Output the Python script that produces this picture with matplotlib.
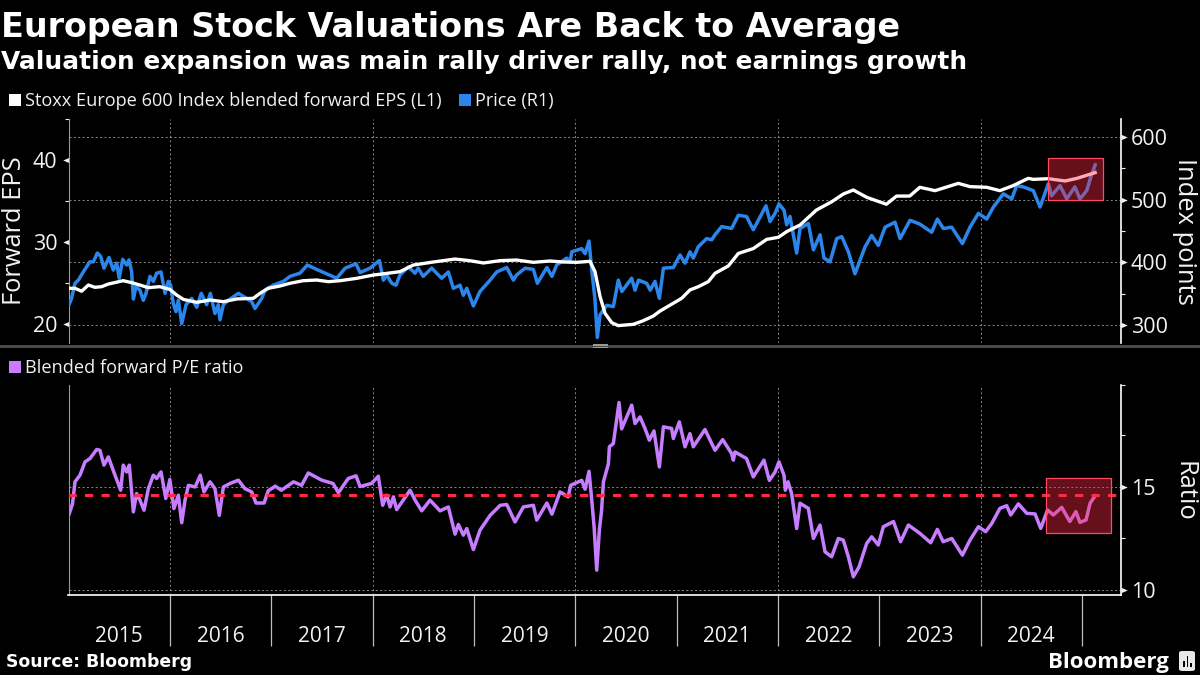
import matplotlib
matplotlib.use('Agg')
import matplotlib.pyplot as plt
from matplotlib.patches import Rectangle, FancyBboxPatch

# price (right axis)
price_dates = [2015.005,2015.03,2015.064,2015.097,2015.146,2015.21,2015.245,2015.284,2015.317,2015.35,2015.40,2015.442,2015.475,2015.50,2015.535,2015.574,2015.597,2015.623,2015.64,2015.666,2015.705,2015.738,2015.765,2015.804,2015.837,2015.87,2015.913,2015.952,2015.985,2016.008,2016.034,2016.06,2016.084,2016.117,2016.16,2016.215,2016.265,2016.31,2016.363,2016.40,2016.445,2016.478,2016.495,2016.528,2016.577,2016.676,2016.758,2016.807,2016.84,2016.906,2016.939,2017.02,2017.12,2017.186,2017.284,2017.357,2017.449,2017.548,2017.646,2017.73,2017.837,2017.877,2017.975,2018.067,2018.107,2018.14,2018.189,2018.232,2018.27,2018.354,2018.42,2018.45,2018.50,2018.584,2018.682,2018.748,2018.797,2018.863,2018.896,2018.93,2018.995,2019.06,2019.16,2019.225,2019.324,2019.39,2019.42,2019.505,2019.587,2019.626,2019.72,2019.77,2019.817,2019.916,2019.95,2019.965,2020.064,2020.097,2020.136,2020.163,2020.195,2020.218,2020.245,2020.31,2020.376,2020.425,2020.46,2020.557,2020.59,2020.624,2020.705,2020.74,2020.787,2020.83,2020.87,2020.968,2021.034,2021.083,2021.132,2021.165,2021.214,2021.297,2021.346,2021.379,2021.445,2021.543,2021.609,2021.69,2021.757,2021.882,2021.922,2021.971,2022.01,2022.06,2022.086,2022.119,2022.185,2022.218,2022.30,2022.35,2022.415,2022.455,2022.514,2022.58,2022.63,2022.695,2022.76,2022.86,2022.925,2022.99,2023.057,2023.155,2023.205,2023.303,2023.40,2023.517,2023.573,2023.632,2023.715,2023.82,2023.895,2023.978,2024.06,2024.126,2024.224,2024.307,2024.356,2024.42,2024.52,2024.586,2024.668,2024.70,2024.783,2024.85,2024.93,2024.98,2025.046,2025.086,2025.13]
price_vals = [333,343,367,372,385,401,401,415,410,391,408,388,399,375,405,396,404,385,342,362,356,340,351,378,370,383,385,351,370,364,335,322,340,303,333,343,329,351,333,351,319,333,309,333,340,351,343,338,327,343,356,364,370,378,383,396,389,382,375,391,398,384,391,403,372,380,367,364,380,393,383,391,378,391,375,385,359,364,348,359,331,354,372,385,392,372,380,391,389,367,392,378,396,407,401,417,422,414,434,388,341,281,317,332,330,372,354,375,356,372,367,356,370,343,391,392,412,399,417,407,425,438,436,444,457,454,475,473,452,490,465,478,493,483,460,473,415,454,462,420,444,407,401,438,441,417,382,425,443,427,456,464,438,467,461,448,469,454,456,430,456,478,469,488,509,501,522,520,514,488,525,506,522,501,520,501,514,535,555]

# forward eps (left axis)
eps_dates = [2015.005,2015.064,2015.13,2015.196,2015.26,2015.327,2015.393,2015.54,2015.623,2015.705,2015.787,2015.90,2016.0,2016.067,2016.133,2016.265,2016.396,2016.528,2016.66,2016.824,2016.89,2016.97,2017.087,2017.185,2017.317,2017.449,2017.564,2017.68,2017.844,2018.008,2018.14,2018.27,2018.403,2018.60,2018.814,2018.96,2019.094,2019.258,2019.42,2019.587,2019.75,2019.883,2020.014,2020.146,2020.195,2020.245,2020.294,2020.36,2020.425,2020.574,2020.672,2020.77,2020.837,2021.05,2021.132,2021.215,2021.313,2021.379,2021.51,2021.609,2021.757,2021.889,2022.004,2022.086,2022.218,2022.38,2022.53,2022.645,2022.744,2022.876,2023.07,2023.17,2023.30,2023.40,2023.55,2023.78,2023.895,2024.06,2024.19,2024.32,2024.47,2024.52,2024.668,2024.833,2024.95,2025.13]
eps_vals = [24.35,24.35,24.0,24.75,24.47,24.55,24.87,25.28,25.04,24.75,24.43,24.55,24.22,23.53,23.0,22.64,22.92,22.72,23.05,23.13,23.74,24.35,24.63,24.96,25.28,25.36,25.16,25.28,25.57,25.97,26.17,26.38,27.19,27.56,27.92,27.72,27.44,27.72,27.8,27.52,27.68,27.56,27.52,27.64,26.38,23.33,21.3,20.16,19.8,19.96,20.4,20.97,21.58,23.13,24.15,24.55,25.16,26.18,27.07,28.6,29.2,30.32,30.57,31.26,32.07,33.9,34.9,35.85,36.34,35.45,34.6,35.6,35.6,36.67,36.26,37.15,36.75,36.67,36.26,36.87,37.76,37.64,37.72,37.44,37.76,38.46]

# blended forward P/E (bottom panel)
pe_dates = [2015.008,2015.04,2015.064,2015.113,2015.163,2015.212,2015.278,2015.31,2015.35,2015.393,2015.459,2015.515,2015.54,2015.574,2015.60,2015.64,2015.672,2015.705,2015.745,2015.788,2015.837,2015.87,2015.913,2015.96,2016.0,2016.04,2016.084,2016.117,2016.15,2016.183,2016.25,2016.30,2016.337,2016.396,2016.445,2016.488,2016.528,2016.594,2016.676,2016.74,2016.807,2016.85,2016.93,2016.97,2017.04,2017.10,2017.22,2017.30,2017.366,2017.498,2017.61,2017.663,2017.76,2017.837,2017.877,2017.99,2018.057,2018.10,2018.14,2018.173,2018.206,2018.238,2018.37,2018.42,2018.485,2018.567,2018.666,2018.748,2018.814,2018.847,2018.896,2018.93,2018.995,2019.06,2019.16,2019.26,2019.324,2019.406,2019.488,2019.587,2019.62,2019.72,2019.77,2019.85,2019.93,2019.955,2020.064,2020.097,2020.136,2020.163,2020.186,2020.212,2020.238,2020.26,2020.278,2020.327,2020.337,2020.376,2020.432,2020.458,2020.557,2020.59,2020.639,2020.688,2020.731,2020.777,2020.83,2020.87,2020.951,2020.968,2021.027,2021.083,2021.132,2021.165,2021.28,2021.379,2021.455,2021.543,2021.56,2021.576,2021.69,2021.757,2021.862,2021.915,2021.971,2022.01,2022.06,2022.073,2022.10,2022.135,2022.185,2022.218,2022.30,2022.35,2022.415,2022.465,2022.53,2022.596,2022.645,2022.695,2022.744,2022.80,2022.876,2022.925,2022.99,2023.04,2023.14,2023.21,2023.287,2023.40,2023.507,2023.573,2023.63,2023.715,2023.82,2023.895,2023.978,2024.05,2024.11,2024.19,2024.257,2024.297,2024.372,2024.455,2024.537,2024.593,2024.66,2024.718,2024.80,2024.88,2024.94,2024.98,2025.04,2025.08,2025.13]
pe_vals = [13.69,14.17,15.23,15.55,16.2,16.36,16.8,16.76,16.04,16.44,15.55,14.82,16.04,15.71,16.04,13.77,14.66,14.34,13.85,14.9,15.55,15.39,15.71,14.42,15.34,13.93,14.58,13.24,14.34,15.06,14.98,15.55,14.74,15.23,14.9,13.6,14.98,15.15,15.31,14.9,14.74,14.2,14.2,14.79,15.02,14.82,15.23,15.06,15.66,15.31,15.15,14.7,15.39,15.52,15.0,15.15,15.5,14.09,14.58,14.01,14.5,13.88,14.82,14.34,13.82,14.34,13.82,14.01,12.69,13.16,12.64,12.96,11.94,12.88,13.6,14.09,14.13,13.28,14.01,14.09,13.37,14.2,13.66,14.74,14.5,15.06,15.3,14.87,15.74,14.34,13.04,10.94,12.88,13.85,15.23,16.1,16.93,17.09,19.08,17.8,18.95,18.06,18.38,17.82,17.25,17.7,15.95,17.9,17.82,17.33,18.14,16.93,17.57,16.93,17.77,16.76,17.28,16.6,16.28,16.68,16.36,15.47,16.28,15.3,15.7,16.2,15.55,14.82,15.23,14.66,12.96,14.19,13.94,12.48,13.13,11.83,11.59,12.48,12.4,11.59,10.62,11.1,12.24,12.56,12.16,13.05,13.3,12.32,13.13,12.73,12.27,12.92,12.32,12.48,11.67,12.4,13.05,12.81,13.21,13.94,14.07,13.62,14.16,13.7,13.67,12.97,13.86,13.62,13.99,13.3,13.78,13.26,13.38,14.19,14.55]

pe_average = 14.6
year_ticks = [2015,2016,2017,2018,2019,2020,2021,2022,2023,2024,2025]
year_labels = ['2015','2016','2017','2018','2019','2020','2021','2022','2023','2024']
grid_years = [2016,2018,2020,2022,2024]

W, H = 1200, 675
WHITE = '#f2f2f2'
BLUE = '#2a86ea'
PURPLE = '#c77dff'
RED = '#ff2a44'
GRID = '#8a8a8a'
body_font = 'Open Sans'

plt.rcParams['font.family'] = body_font

def axes_px(fig, left, top, right, bottom):
    # rectangle given in image pixels
    return fig.add_axes([left / W, 1 - bottom / H, (right - left) / W, (bottom - top) / H])

def grid_style(ax):
    ax.grid(False)
    for y in ax.get_yticks():
        ax.axhline(y, color=GRID, lw=0.7, ls=(0, (2, 2.5)), zorder=1)

def tri_ticks(ax, vals, side):
    # bloomberg style little triangles in place of major ticks
    if side == 'right':
        x, verts = 1, [(0, -3), (0, 3), (7, 0)]
    else:
        x, verts = 0, [(0, -3), (0, 3), (-7, 0)]
    for v in vals:
        ax.plot([x], [v], transform=ax.get_yaxis_transform(), marker=verts, ms=9,
                color=WHITE, mew=0, clip_on=False, zorder=6)

fig = plt.figure(figsize=(12, 6.75), dpi=100, facecolor='black')

# top panel
ax1 = axes_px(fig, 68.5, 119, 1121, 343)
ax2 = ax1.twinx()
ax1.set_zorder(2)
ax2.set_zorder(3)
ax1.set_facecolor('black')
ax2.patch.set_visible(False)
ax1.set_xlim(2015, 2025.385)
ax1.set_ylim(17.68, 45)
ax2.set_ylim(272.2, 627.8)

ax1.set_yticks([20, 30, 40])
ax1.set_yticks([25, 35, 45], minor=True)
ax2.set_yticks([300, 400, 500, 600])
ax2.set_yticks([350, 450, 550], minor=True)
ax1.set_xticks([])
ax2.set_xticks([])
grid_style(ax2)
for y in grid_years:
    ax2.axvline(y, color=GRID, lw=0.7, ls=(0, (2, 2.5)), zorder=1)

ax2.plot(price_dates, price_vals, color=BLUE, lw=2.5, solid_joinstyle='round', zorder=3)
# eps has to sit on top of the price
ax3 = ax1.twinx()
ax3.set_zorder(4)
ax3.patch.set_visible(False)
ax3.set_ylim(ax1.get_ylim())
ax3.axis('off')
ax3.plot(eps_dates, eps_vals, color='white', lw=2.4, zorder=4)

# highlight box, spans 500-566 on the price axis
ax3.add_patch(Rectangle((2024.667, 35.18), 0.543, 5.12, facecolor=RED, alpha=0.4,
                        edgecolor='none', zorder=5))
ax3.add_patch(Rectangle((2024.667, 35.18), 0.543, 5.12, facecolor='none', edgecolor='#ff4a62',
                        lw=0.9, zorder=5))

ax1.tick_params(axis='y', which='major', length=0, pad=8, labelsize=15.5, labelcolor=WHITE)
ax1.tick_params(axis='y', which='minor', length=3, width=0.8, color=WHITE)
ax2.tick_params(axis='y', which='major', length=0, pad=7, labelsize=15.5, labelcolor=WHITE)
ax2.tick_params(axis='y', which='minor', length=3, width=0.8, color=WHITE)
tri_ticks(ax1, [20, 30, 40], 'left')
tri_ticks(ax2, [300, 400, 500, 600], 'right')

for a in (ax1, ax2):
    for s in ('top', 'bottom'):
        a.spines[s].set_visible(False)
ax1.spines['right'].set_visible(False)
ax2.spines['left'].set_color('#9a9a9a')
ax2.spines['right'].set_color('white')
ax2.spines['right'].set_linewidth(1.2)

# bottom panel
ax4 = axes_px(fig, 68.5, 385, 1121, 595.3)
ax4.set_facecolor('black')
ax4.set_xlim(2015, 2025.385)
ax4.set_ylim(9.72, 19.93)
ax4.yaxis.tick_right()
ax4.set_yticks([10, 15])
ax4.set_yticks([12.5, 17.5, 19.93], minor=True)
grid_style(ax4)
for y in grid_years:
    ax4.axvline(y, color=GRID, lw=0.7, ls=(0, (2, 2.5)), zorder=1)
ax4.plot(pe_dates, pe_vals, color=PURPLE, lw=2.5, zorder=3)
ax4.plot([2015, 2025.36], [pe_average, pe_average], color=RED, lw=2.2,
         ls=(0, (2.7, 2.7)), dash_capstyle='butt', zorder=4)
ax4.add_patch(Rectangle((2024.648, 12.73), 0.636, 2.67, facecolor=RED, alpha=0.4,
                        edgecolor='none', zorder=5))
ax4.add_patch(Rectangle((2024.648, 12.73), 0.636, 2.67, facecolor='none', edgecolor='#ff4a62',
                        lw=0.9, zorder=5))
ax4.tick_params(axis='y', which='major', length=0, pad=7, labelsize=15.5, labelcolor=WHITE)
ax4.tick_params(axis='y', which='minor', length=3, width=0.8, color=WHITE)
tri_ticks(ax4, [10, 15], 'right')
ax4.spines['top'].set_visible(False)
ax4.spines['left'].set_color('#9a9a9a')
ax4.spines['right'].set_color('white')
ax4.spines['right'].set_linewidth(1.2)
ax4.spines['bottom'].set_color('white')
ax4.spines['bottom'].set_linewidth(1.2)

ax4.set_xticks(year_ticks[1:])
ax4.set_xticklabels([])
ax4.tick_params(axis='x', which='major', length=37, width=0.9, color='#bdbdbd', direction='out')
for i, lab in enumerate(year_labels):
    ax4.annotate(lab, xy=(year_ticks[i] + 0.5, 0), xycoords=ax4.get_xaxis_transform(),
                 xytext=(0, -33.5), textcoords='offset points', ha='center', va='baseline',
                 color=WHITE, fontsize=15)

# separator between the panels
fig.add_artist(Rectangle((0, 1 - 348.5 / H), 1, 3.5 / H, transform=fig.transFigure,
                         facecolor='#4a4a4a', edgecolor='none'))
fig.add_artist(Rectangle((593 / W, 1 - 348 / H), 15 / W, 1.2 / H, transform=fig.transFigure,
                         facecolor='#9a9a9a', edgecolor='none'))
fig.add_artist(Rectangle((593 / W, 1 - 345.6 / H), 15 / W, 1.2 / H, transform=fig.transFigure,
                         facecolor='#9a9a9a', edgecolor='none'))

def txt(x, y, s, **kw):
    return fig.text(x / W, 1 - y / H, s, **kw)

# titles
txt(1, 37, 'European Stock Valuations Are Back to Average', color='white', fontsize=24,
    fontweight='bold', family='DejaVu Sans', va='baseline')
txt(1, 69, 'Valuation expansion was main rally driver rally, not earnings growth', color='white',
    fontsize=17.95, fontweight='bold', family='DejaVu Sans', va='baseline')

# legends
def legend_square(x, y, color):
    fig.add_artist(Rectangle((x / W, 1 - (y + 12) / H), 12 / W, 12 / H, transform=fig.transFigure,
                             facecolor=color, edgecolor='none'))

legend_square(9, 94, 'white')
txt(25, 106, 'Stoxx Europe 600 Index blended forward EPS (L1)', color=WHITE, fontsize=13.1, va='baseline')
legend_square(459, 94, BLUE)
txt(475, 106, 'Price (R1)', color=WHITE, fontsize=13.1, va='baseline')
legend_square(9, 361, PURPLE)
txt(25, 373, 'Blended forward P/E ratio', color=WHITE, fontsize=13.1, va='baseline')

# axis titles
txt(15, 231, 'Forward EPS', color=WHITE, fontsize=18.4, rotation=90, ha='center', va='center')
txt(1185, 231, 'Index points', color=WHITE, fontsize=18.4, rotation=270, ha='center', va='center')
txt(1184, 491, 'Ratio', color=WHITE, fontsize=18.4, rotation=270, ha='center', va='center')

# footer
txt(6, 667, 'Source: Bloomberg', color='white', fontsize=12.4, fontweight='bold',
    family='DejaVu Sans', va='baseline')
txt(1048, 668, 'Bloomberg', color='white', fontsize=16, fontweight='bold', family='Open Sans', va='baseline')
fig.add_artist(FancyBboxPatch((1179 / W, 1 - 671 / H), 16 / W, 20 / H, transform=fig.transFigure,
                              boxstyle='round,pad=0,rounding_size=0.003', facecolor='#e8e8e8',
                              edgecolor='none'))
for bx, bh in zip([1183, 1186.5, 1190], [6, 11, 4]):
    fig.add_artist(Rectangle((bx / W, 1 - 667 / H), 1.6 / W, bh / H, transform=fig.transFigure,
                             facecolor='black', edgecolor='none'))

fig.savefig('out.png', dpi=100, facecolor='black')
